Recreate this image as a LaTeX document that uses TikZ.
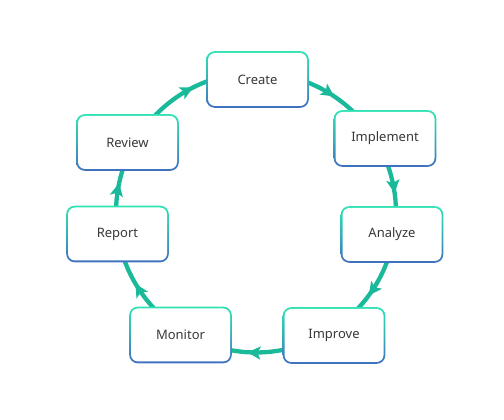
\documentclass[tikz,border=0pt]{standalone}
\usepackage{fontspec}
\setmainfont{Noto Sans}
\usetikzlibrary{arrows.meta,decorations.markings,calc,backgrounds}
\pgfdeclarelayer{arcs}
\pgfsetlayers{arcs,background,main}
\definecolor{flowline}{HTML}{19B999}
\definecolor{framtop}{HTML}{2EE3B3}
\definecolor{frambot}{HTML}{4170C0}
\definecolor{labelgray}{HTML}{383838}
\tikzset{
  stepbox/.style={rectangle, rounded corners=7pt, minimum width=99pt, minimum height=53pt,
    fill=white, inner sep=0pt, text=labelgray, font=\fontsize{13}{15}\selectfont},
  conn/.style={draw=flowline, line width=4.3pt,
    postaction={decorate},
    decoration={markings, mark=at position 0.56 with {\arrow[flowline]{Stealth[length=13pt,width=13pt,inset=3pt]}}}},
}
\begin{document}
\begin{tikzpicture}[x=1pt,y=1pt]
\useasboundingbox (0,0) rectangle (504,420);
\coordinate (O) at (256,207.5);
\def\R{140}
\node[stepbox] (create)    at (257.5,340.5) {Create};
\node[stepbox] (implement) at (385,281.5)   {Implement};
\node[stepbox] (analyze)   at (392,185.5)   {Analyze};
\node[stepbox] (improve)   at (334,84.5)    {Improve};
\node[stepbox] (monitor)   at (180.5,85)    {Monitor};
\node[stepbox] (report)    at (117.5,186)   {Report};
\node[stepbox] (review)    at (127.5,277.5) {Review};
\begin{pgfonlayer}{background}
\foreach \n in {create,implement,analyze,improve,monitor,report,review}{
  \shade[rounded corners=8.5pt, top color=framtop, bottom color=frambot, middle color=framtop!55!frambot]
    ([shift={(-1.6,-1.6)}]\n.south west) rectangle ([shift={(1.6,1.6)}]\n.north east);
}
\end{pgfonlayer}
\begin{pgfonlayer}{arcs}
\foreach \a/\b in {create/implement,implement/analyze,analyze/improve,improve/monitor,monitor/report,report/review,review/create}{
  \path[conn] let \p1=($(\a)-(O)$), \p2=($(\b)-(O)$),
      \n1={atan2(\y1,\x1)}, \n2={atan2(\y2,\x2)},
      \n3={\n2-360*(\n2>\n1)} in
      ($(O)+(\n1:\R)$) arc[start angle=\n1, end angle=\n3, radius=\R];
}
\end{pgfonlayer}
\end{tikzpicture}
\end{document}
